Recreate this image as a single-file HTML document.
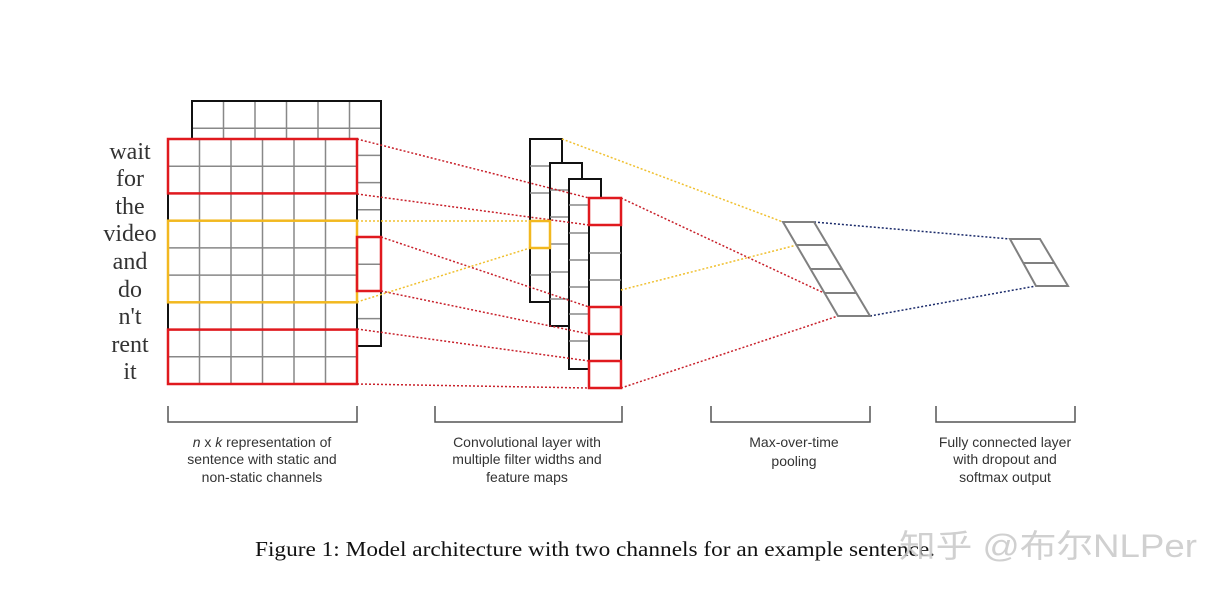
<!DOCTYPE html>
<html><head><style>
html,body{margin:0;padding:0;background:#fff;}
svg{display:block}
</style></head><body>
<svg width="1229" height="593" viewBox="0 0 1229 593" xmlns="http://www.w3.org/2000/svg">
<rect width="1229" height="593" fill="#fff"/>
<!-- back matrix -->
<g stroke="#888" stroke-width="1.5" fill="none">
<path d="M223.5 101V139M255 101V139M286.5 101V139M318 101V139M349.5 101V139"/>
<path d="M192 128.2H381"/>
<path d="M357 155.4H381M357 182.6H381M357 209.8H381M357 264.2H381M357 318.6H381"/>
</g>
<rect x="192" y="101" width="189" height="245" fill="none" stroke="#111" stroke-width="2"/>
<!-- front matrix -->
<rect x="168" y="139" width="189" height="245" fill="#fff" stroke="#111" stroke-width="2"/>
<g stroke="#888" stroke-width="1.5" fill="none">
<path d="M199.5 139V384M231 139V384M262.5 139V384M294 139V384M325.5 139V384"/>
<path d="M168 166.2H357M168 193.4H357M168 220.7H357M168 247.9H357M168 275.1H357M168 302.3H357M168 329.6H357M168 356.8H357"/>
</g>
<rect x="168" y="139" width="189" height="54.4" fill="none" stroke="#e0191e" stroke-width="2.5"/>
<rect x="168" y="220.7" width="189" height="81.6" fill="none" stroke="#f2b820" stroke-width="2.5"/>
<rect x="168" y="329.6" width="189" height="54.4" fill="none" stroke="#e0191e" stroke-width="2.5"/>
<rect x="357" y="237" width="24" height="54" fill="none" stroke="#e0191e" stroke-width="2.5"/>
<!-- words -->
<g font-family="Liberation Serif, serif" font-size="24" fill="#333" text-anchor="middle">
<text x="130" y="159">wait</text>
<text x="130" y="186">for</text>
<text x="130" y="214">the</text>
<text x="130" y="241">video</text>
<text x="130" y="269">and</text>
<text x="130" y="297">do</text>
<text x="130" y="324">n't</text>
<text x="130" y="352">rent</text>
<text x="130" y="379">it</text>
</g>
<!-- feature maps -->
<rect x="530" y="139" width="32" height="163" fill="#fff" stroke="#111" stroke-width="2"/>
<path d="M530 166H550M530 193H550M530 275H550" stroke="#888" stroke-width="1.5"/>
<rect x="550" y="163" width="32" height="163" fill="#fff" stroke="#111" stroke-width="2"/>
<path d="M550 190H569M550 217H569M550 244H569M550 272H569M550 299H569" stroke="#888" stroke-width="1.5"/>
<rect x="569" y="179" width="32" height="190" fill="#fff" stroke="#111" stroke-width="2"/>
<path d="M569 205H589M569 233H589M569 260H589M569 287H589M569 314H589M569 341H589" stroke="#888" stroke-width="1.5"/>
<rect x="589" y="198" width="32" height="190" fill="#fff" stroke="#111" stroke-width="2"/>
<path d="M589 253H621M589 280H621" stroke="#888" stroke-width="1.5"/>
<rect x="589" y="334" width="32" height="27" fill="none" stroke="#111" stroke-width="1.5"/>
<!-- dotted connectors -->
<g fill="none" stroke-width="1.5" stroke-dasharray="2,2">
<g stroke="#c8202a">
<path d="M357 139L589 198M357 194L589 225M381 237L589 307M381 291L589 334M357 329L589 361M357 384L589 388"/>
<path d="M621 198L824 293M621 388L838 316"/>
</g>
<g stroke="#f0c030">
<path d="M357 221L530 221M357 302L530 248"/>
<path d="M562 139L783 222M621 290L797 245"/>
</g>
<g stroke="#1a2a6a">
<path d="M814 222L1010 239M870 316L1036 286"/>
</g>
</g>
<rect x="530" y="221" width="20" height="27" fill="none" stroke="#f2b820" stroke-width="2.5"/>
<rect x="589" y="198" width="32" height="27" fill="none" stroke="#e0191e" stroke-width="2.5"/>
<rect x="589" y="307" width="32" height="27" fill="none" stroke="#e0191e" stroke-width="2.5"/>
<rect x="589" y="361" width="32" height="27" fill="none" stroke="#e0191e" stroke-width="2.5"/>
<!-- pooling -->
<g stroke="#808080" stroke-width="2" fill="none">
<path d="M783 222L814 222L870 316L838 316Z"/>
<path d="M796.5 245H827.5M810.5 269H841.5M824.5 293H855.5"/>
<path d="M1010 239L1040 239L1068 286L1036 286Z"/>
<path d="M1023 263H1054"/>
</g>
<!-- brackets -->
<g stroke="#555" stroke-width="1.5" fill="none">
<path d="M168 406V422H357V406"/>
<path d="M435 406V422H622V406"/>
<path d="M711 406V422H870V406"/>
<path d="M936 406V422H1075V406"/>
</g>
<g font-family="Liberation Sans, sans-serif" font-size="14" fill="#333" text-anchor="middle">
<text x="262" y="447"><tspan font-style="italic">n</tspan> x <tspan font-style="italic">k</tspan> representation of</text>
<text x="262" y="464">sentence with static and</text>
<text x="262" y="482">non-static channels</text>
<text x="527" y="447">Convolutional layer with</text>
<text x="527" y="464">multiple filter widths and</text>
<text x="527" y="482">feature maps</text>
<text x="794" y="447">Max-over-time</text>
<text x="794" y="466">pooling</text>
<text x="1005" y="447">Fully connected layer</text>
<text x="1005" y="464">with dropout and</text>
<text x="1005" y="482">softmax output</text>
</g>
<text x="255" y="556" font-family="Liberation Serif, serif" font-size="21" fill="#111" textLength="680" lengthAdjust="spacingAndGlyphs">Figure 1: Model architecture with two channels for an example sentence.</text>
<text x="899" y="557" font-family="Liberation Sans, 'Noto Sans CJK SC', sans-serif" font-size="32" fill="#c8c8c8" fill-opacity="0.85" textLength="298" lengthAdjust="spacingAndGlyphs">知乎 @布尔NLPer</text>
</svg>
</body></html>
